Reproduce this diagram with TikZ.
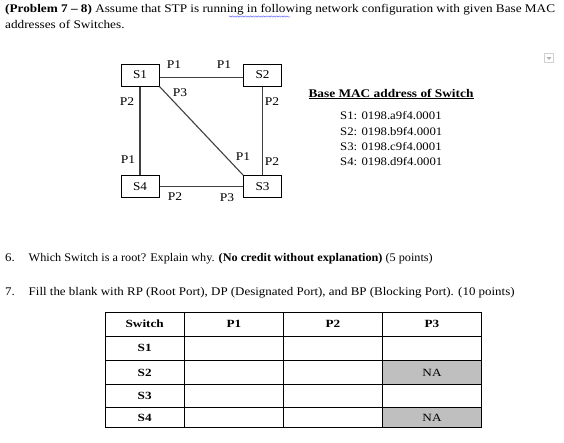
\documentclass[tikz,border=0pt]{standalone}
\usepackage{fontspec}
\setmainfont{Liberation Serif}
\usetikzlibrary{positioning,decorations.pathmorphing}

\begin{document}
\begin{tikzpicture}[x=1pt,y=-1pt,
  switch/.style={draw,line width=1pt,inner sep=0pt,minimum width=38pt,minimum height=22pt},
  swlabel/.style={inner sep=0pt,xscale=1.1,font=\fontsize{12}{14}\selectfont},
  port/.style={inner sep=0pt,xscale=1.15,font=\fontsize{11.8}{14}\selectfont},
  link/.style={line width=1.1pt,black!75},
  body/.style={anchor=base west,inner sep=0pt,font=\fontsize{11.7}{14}\selectfont},
  mac/.style={anchor=base west,inner sep=0pt,xscale=1.11,font=\fontsize{11.5}{14}\selectfont},
  cell/.style={inner sep=0pt,xscale=1.2,font=\fontsize{11}{13}\selectfont\bfseries}]
\useasboundingbox (0,0) rectangle (564,442);

% problem text
\node[body,xscale=1.13] (title) at (5,12.5) {\textbf{(Problem 7 -- 8)} Assume that STP is running in following network configuration with given Base MAC};
\node[body,xscale=1.13] (title2) at (5,28.5) {addresses of Switches.};
\draw[blue!65,decorate,decoration={snake,amplitude=0.7pt,segment length=2.6pt}] (229,16.5) -- (290,16.5);
\node[draw=black!18,minimum size=9pt,inner sep=0pt] (menu) at (549,58) {};
\fill[black!30] ([shift={(-2.5,-1)}]menu.center) -- ([shift={(2.5,-1)}]menu.center) -- ([shift={(0,2)}]menu.center) -- cycle;

% switches
\node[switch] (s1) at (140,75) {};
\node[switch] (s2) at (262.5,75) {};
\node[switch] (s4) at (140,186.5) {};
\node[switch] (s3) at (262.5,186.5) {};
\node[swlabel] (s1l) at (s1) {S1};
\node[swlabel] (s2l) at (s2) {S2};
\node[swlabel] (s4l) at (s4) {S4};
\node[swlabel] (s3l) at (s3) {S3};
\draw[link] ([yshift=-2.5]s1.east) -- ([yshift=-2.5]s2.west);
\draw[link] (s1) -- (s4);
\draw[link] (s2) -- (s3);
\draw[link] (s4) -- (s3);
\draw[link] (s1.south east) -- (s3.north west);

% ports
\node[port] (s1p1) at (174,65) {P1};
\node[port] (s1p2) at (127,102) {P2};
\node[port] (s1p3) at (180,93) {P3};
\node[port] (s2p1) at (224,65) {P1};
\node[port] (s2p2) at (272,102) {P2};
\node[port] (s4p1) at (128,160) {P1};
\node[port] (s4p2) at (175,197) {P2};
\node[port] (s3p1) at (243,157) {P1};
\node[port] (s3p2) at (272,162) {P2};
\node[port] (s3p3) at (227,198) {P3};

% MAC addresses
\node[anchor=base,inner sep=0pt,xscale=1.14,font=\fontsize{11.7}{14}\selectfont] (machead) at (391,97) {\underline{\textbf{Base MAC address of Switch}}};
\node[mac] (mac1) at (340,119.3) {S1: 0198.a9f4.0001};
\node[mac] (mac2) at (340,135) {S2: 0198.b9f4.0001};
\node[mac] (mac3) at (340,150.6) {S3: 0198.c9f4.0001};
\node[mac] (mac4) at (340,165.3) {S4: 0198.d9f4.0001};

% questions
\node[body,xscale=1.1] (q6num) at (5,261) {6.};
\node[body,xscale=1.045] (q6) at (28.5,261) {Which Switch is a root? Explain why. \textbf{(No credit without explanation)} (5 points)};
\node[body,xscale=1.1] (q7num) at (5,295.5) {7.};
\node[body,xscale=1.105] (q7) at (28.5,295.5) {Fill the blank with RP (Root Port), DP (Designated Port), and BP (Blocking Port). (10 points)};

% table
\fill[black!25] (382.5,360.5) rectangle (481.5,384.5);
\fill[black!25] (382.5,407.5) rectangle (481.5,427.5);
\draw[line width=0.9pt] (105,312.5) rectangle (481.5,427.5);
\foreach \x in {184.5,283.5,382.5}
  \draw[line width=0.9pt] (\x,312.5) -- (\x,427.5);
\foreach \y in {336,360.5,384.5,407.5}
  \draw[line width=0.9pt] (105,\y) -- (481.5,\y);
\node[cell] (hsw) at (144.7,324.2) {Switch};
\node[cell] (hp1) at (234,324.2) {P1};
\node[cell] (hp2) at (333,324.2) {P2};
\node[cell] (hp3) at (432,324.2) {P3};
\node[cell] (r1) at (144.7,348.2) {S1};
\node[cell] (r2) at (144.7,372.5) {S2};
\node[cell] (r3) at (144.7,396) {S3};
\node[cell] (r4) at (144.7,417.5) {S4};
\node[cell,font=\fontsize{11}{13}\selectfont] (na2) at (432,372.5) {NA};
\node[cell,font=\fontsize{11}{13}\selectfont] (na4) at (432,417.5) {NA};
\end{tikzpicture}
\end{document}
